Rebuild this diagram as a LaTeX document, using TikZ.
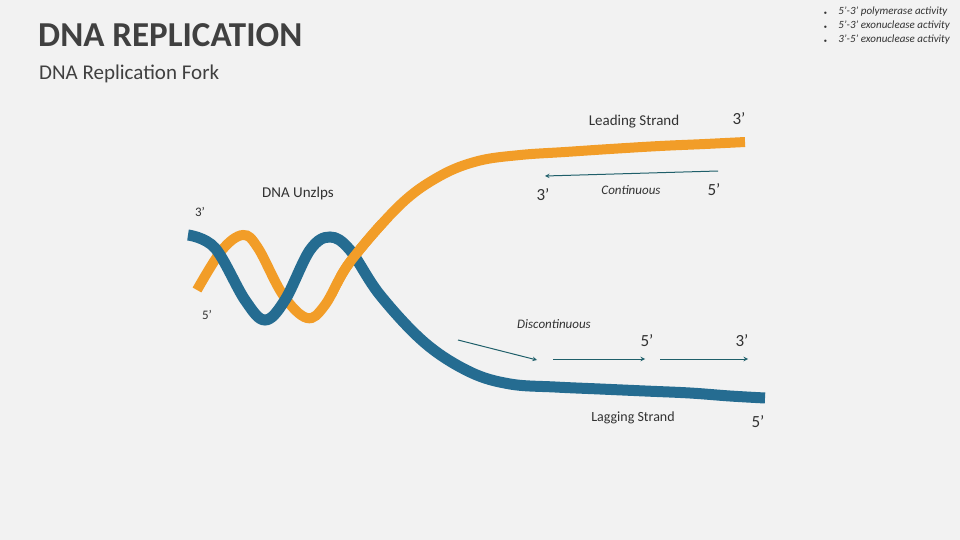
\documentclass[tikz,border=0pt]{standalone}
\usepackage{fontspec}
\setmainfont{Carlito}
\definecolor{bg}{RGB}{242,242,242}
\definecolor{org}{RGB}{242,157,40}
\definecolor{blu}{RGB}{37,108,145}
\definecolor{teal2}{RGB}{31,95,106}
\definecolor{txt}{RGB}{50,50,50}
\definecolor{ttl}{RGB}{64,64,64}
\begin{document}
\begin{tikzpicture}[x=1pt,y=-1pt,
  orange/.style={draw=org,line width=10pt},
  blue/.style={draw=blu,line width=11pt},
  arr/.style={draw=teal2,line width=1pt,-stealth},
  lbl/.style={text=txt,inner sep=0pt}]
\fill[bg] (0,0) rectangle (960,540);
\useasboundingbox (0,0) rectangle (960,540);
\def\orangepath{plot[smooth,tension=0.6] coordinates {(197,290)(222,250)(243,235)(258,248)(283,295)(307,318)(325,305)(350,262)(400,205)(440,176)(478,161)(520,155)(565,152)(610,149)(660,146)(705,144)(745,142)}}
\def\bluepath{plot[smooth,tension=0.6] coordinates {(188,235)(215,248)(245,300)(265,320)(285,300)(310,250)(330,237)(350,250)(380,295)(425,343)(470,372)(510,384)(555,387)(600,389)(645,391)(690,393)(730,396)(765,398)}}
\draw[orange] \orangepath;
\draw[blue] \bluepath;
\begin{scope}
\clip (336,220) rectangle (400,300);
\draw[orange] \orangepath;
\end{scope}
\node[lbl,anchor=west,font=\bfseries\fontsize{35}{35}\selectfont,text=ttl] (t) at (38,35) {DNA REPLICATION};
\node[lbl,anchor=west,font=\fontsize{21}{21}\selectfont,text=ttl] (st) at (39,74) {DNA Replication Fork};
\node[lbl,anchor=north east,font=\itshape\fontsize{11}{14}\selectfont,align=left] (b) at (950,7) {{\tiny$\bullet$}\quad 5\textquoteright-3\textquoteright{} polymerase activity\\ {\tiny$\bullet$}\quad 5\textquoteright-3\textquoteright{} exonuclease activity\\ {\tiny$\bullet$}\quad 3\textquoteright-5\textquoteright{} exonuclease activity};
\node[lbl,font=\fontsize{15}{15}\selectfont] (ls) at (634,122) {Leading Strand};
\node[lbl,font=\fontsize{17}{17}\selectfont] (l3) at (739,119) {3\textquoteright};
\coordinate (la) at (718,171);
\coordinate (lb) at (545,176);
\draw[arr] (la) -- (lb);
\node[lbl,font=\fontsize{17}{17}\selectfont] (c3) at (543,195) {3\textquoteright};
\node[lbl,font=\itshape\fontsize{13}{13}\selectfont] (cont) at (631,190) {Continuous};
\node[lbl,font=\fontsize{17}{17}\selectfont] (c5) at (714,190) {5\textquoteright};
\node[lbl,font=\fontsize{15}{15}\selectfont] (unz) at (298,194) {DNA Unzlps};
\node[lbl,font=\fontsize{13}{13}\selectfont] (h3) at (200,212) {3\textquoteright};
\node[lbl,font=\fontsize{13}{13}\selectfont] (h5) at (207,315) {5\textquoteright};
\node[lbl,font=\itshape\fontsize{13}{13}\selectfont] (disc) at (554,324) {Discontinuous};
\coordinate (d1a) at (458,340); \coordinate (d1b) at (537,360);
\coordinate (d2a) at (553,359); \coordinate (d2b) at (645,359);
\coordinate (d3a) at (660,359); \coordinate (d3b) at (748,359);
\draw[arr] (d1a) -- (d1b);
\draw[arr] (d2a) -- (d2b);
\draw[arr] (d3a) -- (d3b);
\node[lbl,font=\fontsize{17}{17}\selectfont] (d5) at (647,341) {5\textquoteright};
\node[lbl,font=\fontsize{17}{17}\selectfont] (d3) at (742,341) {3\textquoteright};
\node[lbl,font=\fontsize{14}{14}\selectfont] (lag) at (633,418) {Lagging Strand};
\node[lbl,font=\fontsize{17}{17}\selectfont] (g5) at (758,422) {5\textquoteright};
\end{tikzpicture}
\end{document}
